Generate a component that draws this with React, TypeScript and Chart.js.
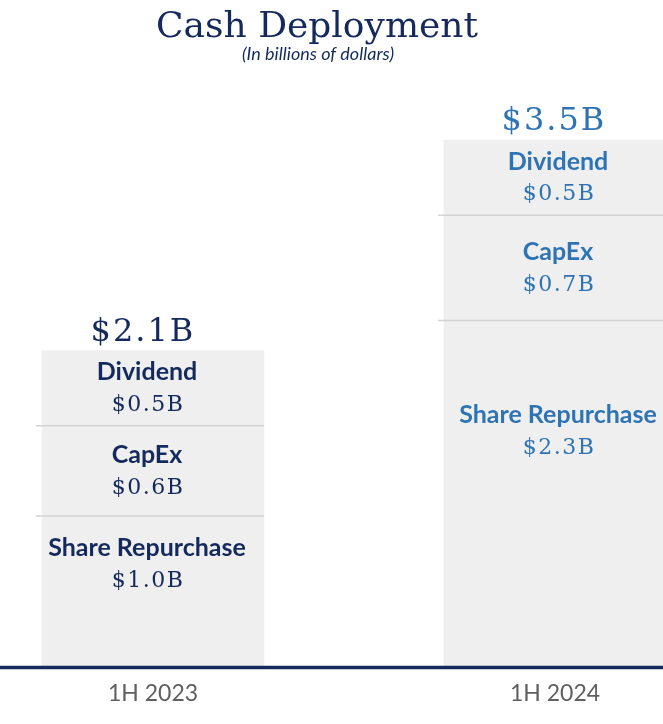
import React, { useEffect, useRef } from "react";
import { Chart, registerables } from "chart.js";

Chart.register(...registerables);

// ---- Data ----
const categories = ["1H 2023", "1H 2024"];
const segmentNames = ["Share Repurchase", "CapEx", "Dividend"];
const shareRepurchase = [1.0, 2.3];
const capEx = [0.6, 0.7];
const dividend = [0.5, 0.5];
const titleText = "Cash Deployment";
const subtitleText = "(In billions of dollars)";

// ---- Styles ----
const NAVY = "#14295c";
const BLUE = "#2e74b5";
const barTextColors = [NAVY, BLUE];
const barTextShift = [-6, 3];
const BAR_FILL = "#efefef";
const SEP_COLOR = "#d3d3d3";
const anchorFractions = [0.32, 0.5, 0.5];

const fmt = (v: number) => "$" + v.toFixed(1) + "B";

const labelPlugin = {
  id: "cashLabels",
  afterDatasetsDraw(chart: any) {
    const ctx = chart.ctx as any;
    const n = chart.data.datasets.length;
    ctx.save();

    // separators between segments
    for (let d = 0; d < n - 1; d++) {
      const meta = chart.getDatasetMeta(d);
      meta.data.forEach((bar: any) => {
        const p = bar.getProps(["x", "y", "base", "width"], true);
        ctx.strokeStyle = SEP_COLOR;
        ctx.lineWidth = 1.5;
        ctx.beginPath();
        ctx.moveTo(p.x - p.width / 2 - 6, p.y);
        ctx.lineTo(p.x + p.width / 2, p.y);
        ctx.stroke();
      });
    }

    // axis line across full width
    const y0 = chart.scales.y.getPixelForValue(0);
    ctx.strokeStyle = NAVY;
    ctx.lineWidth = 3.5;
    ctx.beginPath();
    ctx.moveTo(0, y0 + 1);
    ctx.lineTo(chart.width, y0 + 1);
    ctx.stroke();

    // segment labels
    ctx.textAlign = "center";
    ctx.textBaseline = "middle";
    for (let d = 0; d < n; d++) {
      const ds = chart.data.datasets[d];
      const meta = chart.getDatasetMeta(d);
      meta.data.forEach((bar: any, i: number) => {
        const p = bar.getProps(["x", "y", "base"], true);
        const c = p.y + anchorFractions[d] * (p.base - p.y);
        const x = p.x + barTextShift[i];
        ctx.fillStyle = barTextColors[i];
        ctx.letterSpacing = "0px";
        ctx.font = "bold 25px Lato";
        ctx.fillText(ds.label, x, c - 16);
        ctx.letterSpacing = "1.5px";
        ctx.font = "22px 'DejaVu Serif'";
        ctx.fillText(fmt(ds.data[i]), x + 1, c + 17);
      });
    }

    // totals
    const topMeta = chart.getDatasetMeta(n - 1);
    topMeta.data.forEach((bar: any, i: number) => {
      const p = bar.getProps(["x", "y"], true);
      let total = 0;
      for (let d = 0; d < n; d++) total += chart.data.datasets[d].data[i];
      ctx.fillStyle = barTextColors[i];
      ctx.letterSpacing = "2px";
      ctx.font = "32px 'DejaVu Serif'";
      ctx.fillText(fmt(total), p.x + barTextShift[i] - 4, p.y - 18);
    });

    // title
    ctx.letterSpacing = "0px";
    ctx.fillStyle = NAVY;
    ctx.textBaseline = "alphabetic";
    ctx.font = "36px 'DejaVu Serif'";
    ctx.fillText(titleText, 317, 37);
    ctx.font = "italic 18px Lato";
    ctx.fillText(subtitleText, 318, 60);

    ctx.restore();
  },
};

export default function App() {
  const ref = useRef<HTMLCanvasElement | null>(null);

  useEffect(() => {
    if (!ref.current) return;
    const values = [shareRepurchase, capEx, dividend];
    const chart = new Chart(ref.current, {
      type: "bar",
      data: {
        labels: categories,
        datasets: segmentNames.map((name, k) => ({
          label: name,
          data: values[k],
          backgroundColor: BAR_FILL,
          borderWidth: 0,
          barThickness: 222,
          clip: false as any,
        })),
      },
      options: {
        animation: false,
        responsive: true,
        maintainAspectRatio: false,
        layout: { padding: { left: 153, right: 108, top: 65, bottom: 4 } },
        plugins: {
          legend: { display: false },
          tooltip: { enabled: false },
          title: { display: false },
        },
        scales: {
          x: {
            type: "category",
            offset: false,
            stacked: true,
            grid: { display: false, drawTicks: false },
            border: { display: false },
            ticks: {
              color: "#5f5f5f",
              font: { family: "Lato", size: 23 },
              padding: 13,
            },
          },
          y: {
            stacked: true,
            min: 0,
            max: 4,
            display: false,
          },
        },
      },
      plugins: [labelPlugin],
    });
    return () => chart.destroy();
  }, []);

  return (
    <div
      style={{
        position: "fixed",
        left: 0,
        top: 0,
        width: 663,
        height: 724,
        background: "#ffffff",
      }}
    >
      <canvas ref={ref} />
    </div>
  );
}
